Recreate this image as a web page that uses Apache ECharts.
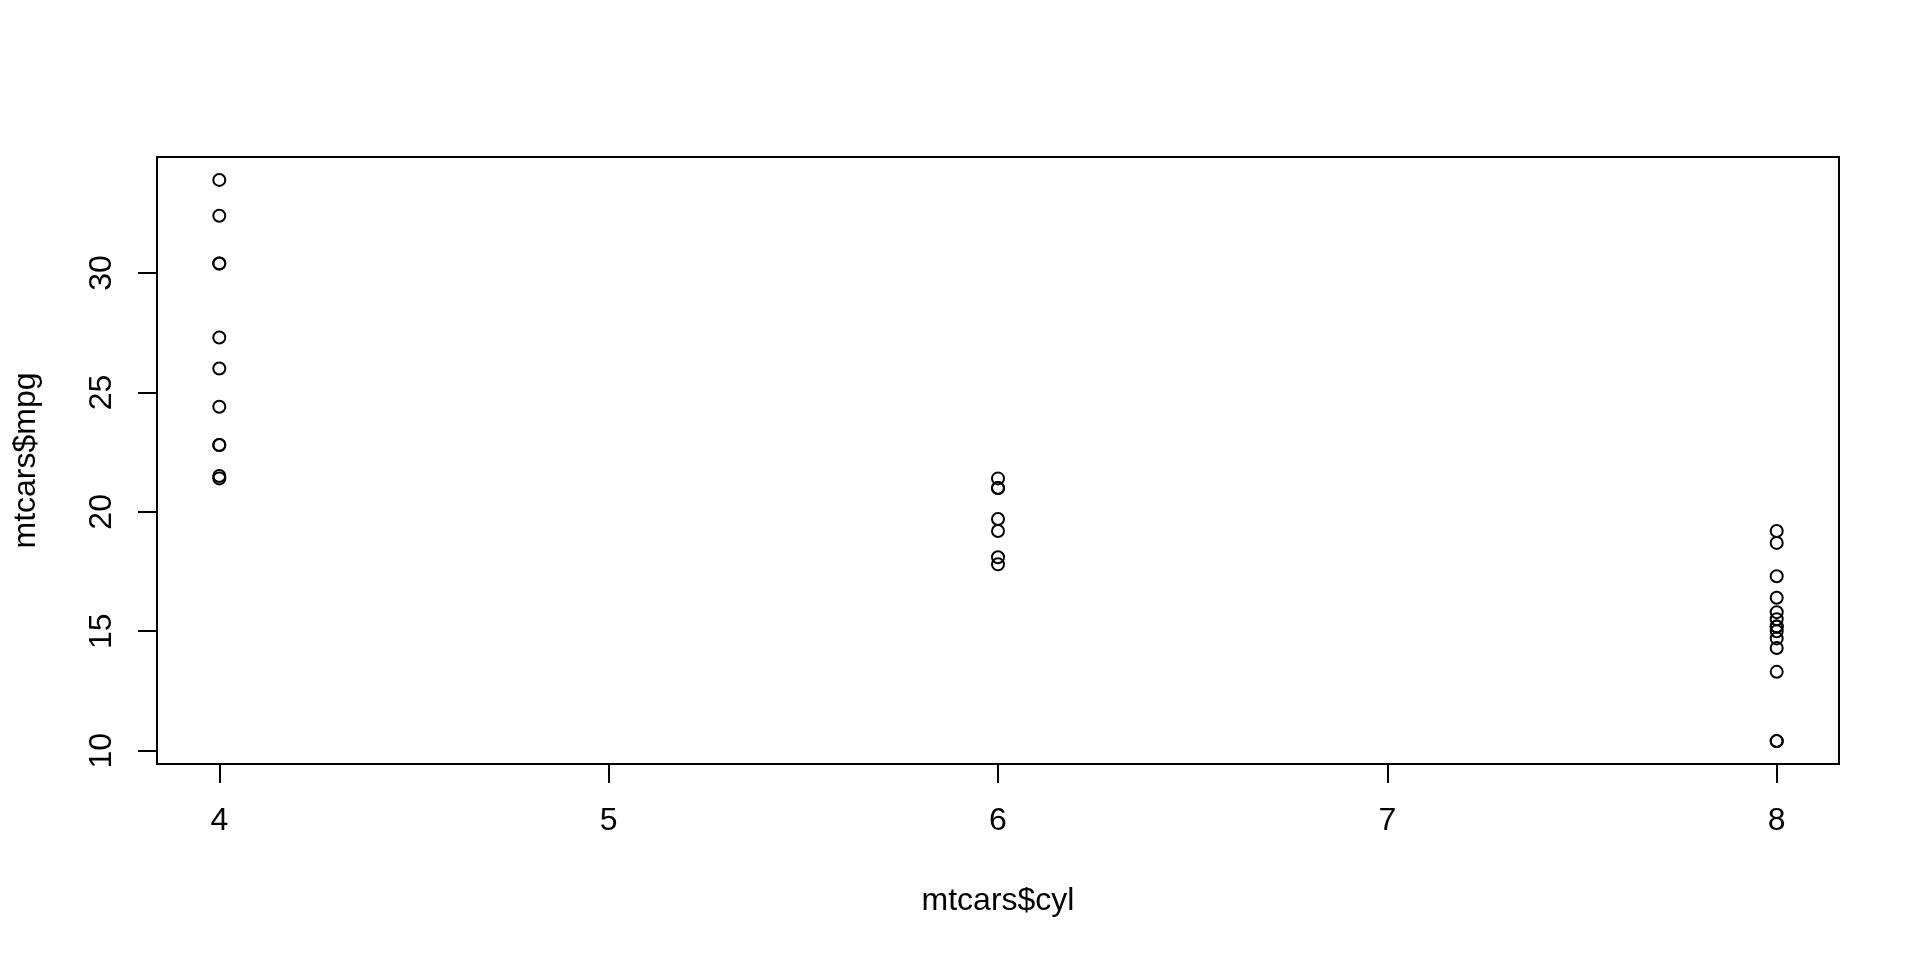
<!DOCTYPE html>
<html>
<head>
<meta charset="utf-8">
<script src="https://cdn.jsdelivr.net/npm/echarts@6/dist/echarts.min.js"></script>
<style>html,body{margin:0;padding:0;background:#fff}#c{width:1920px;height:960px}</style>
</head>
<body>
<div id="c"></div>
<script>
// mtcars data (row order)
const cyl = [6,6,4,6,8,6,8,4,4,6,6,8,8,8,8,8,8,4,4,4,4,8,8,8,8,4,4,4,8,6,8,4];
const mpg = [21.0,21.0,22.8,21.4,18.7,18.1,14.3,24.4,22.8,19.2,17.8,16.4,17.3,15.2,10.4,10.4,14.7,32.4,30.4,33.9,21.5,15.5,15.2,13.3,19.2,27.3,26.0,30.4,15.8,19.7,15.0,21.4];
const xTicks = [4,5,6,7,8];
const yTicks = [10,15,20,25,30];
const xName = 'mtcars$cyl';
const yName = 'mtcars$mpg';

const points = cyl.map((c, i) => [c, mpg[i]]);
const font = 'Liberation Sans, Arial, sans-serif';
const chart = echarts.init(document.getElementById('c'));
chart.setOption({
  animation: false,
  backgroundColor: '#fff',
  grid: { left: 157, right: 81, top: 157, bottom: 196, show: true, borderColor: '#000', borderWidth: 2, backgroundColor: 'transparent' },
  xAxis: {
    type: 'value', min: 3.84, max: 8.16,
    name: xName, nameLocation: 'middle', nameGap: 121,
    nameTextStyle: { fontFamily: font, fontSize: 32, color: '#000' },
    axisLine: { show: false },
    splitLine: { show: false },
    axisTick: { show: true, length: 19, lineStyle: { color: '#000', width: 2 }, customValues: xTicks },
    axisLabel: { fontFamily: font, fontSize: 32, color: '#000', margin: 41, customValues: xTicks }
  },
  yAxis: {
    type: 'value', min: 9.44, max: 34.86,
    name: yName, nameLocation: 'middle', nameGap: 115,
    nameTextStyle: { fontFamily: font, fontSize: 32, color: '#000' },
    axisLine: { show: false },
    splitLine: { show: false },
    axisTick: { show: true, length: 19, lineStyle: { color: '#000', width: 2 }, customValues: yTicks },
    axisLabel: { fontFamily: font, fontSize: 32, color: '#000', margin: 39, rotate: 90, customValues: yTicks }
  },
  series: [{
    type: 'scatter',
    data: points,
    symbol: 'circle',
    symbolSize: 12,
    itemStyle: { color: 'transparent', borderColor: '#000', borderWidth: 2, opacity: 1 },
    emphasis: { disabled: true }
  }]
});
</script>
</body>
</html>
